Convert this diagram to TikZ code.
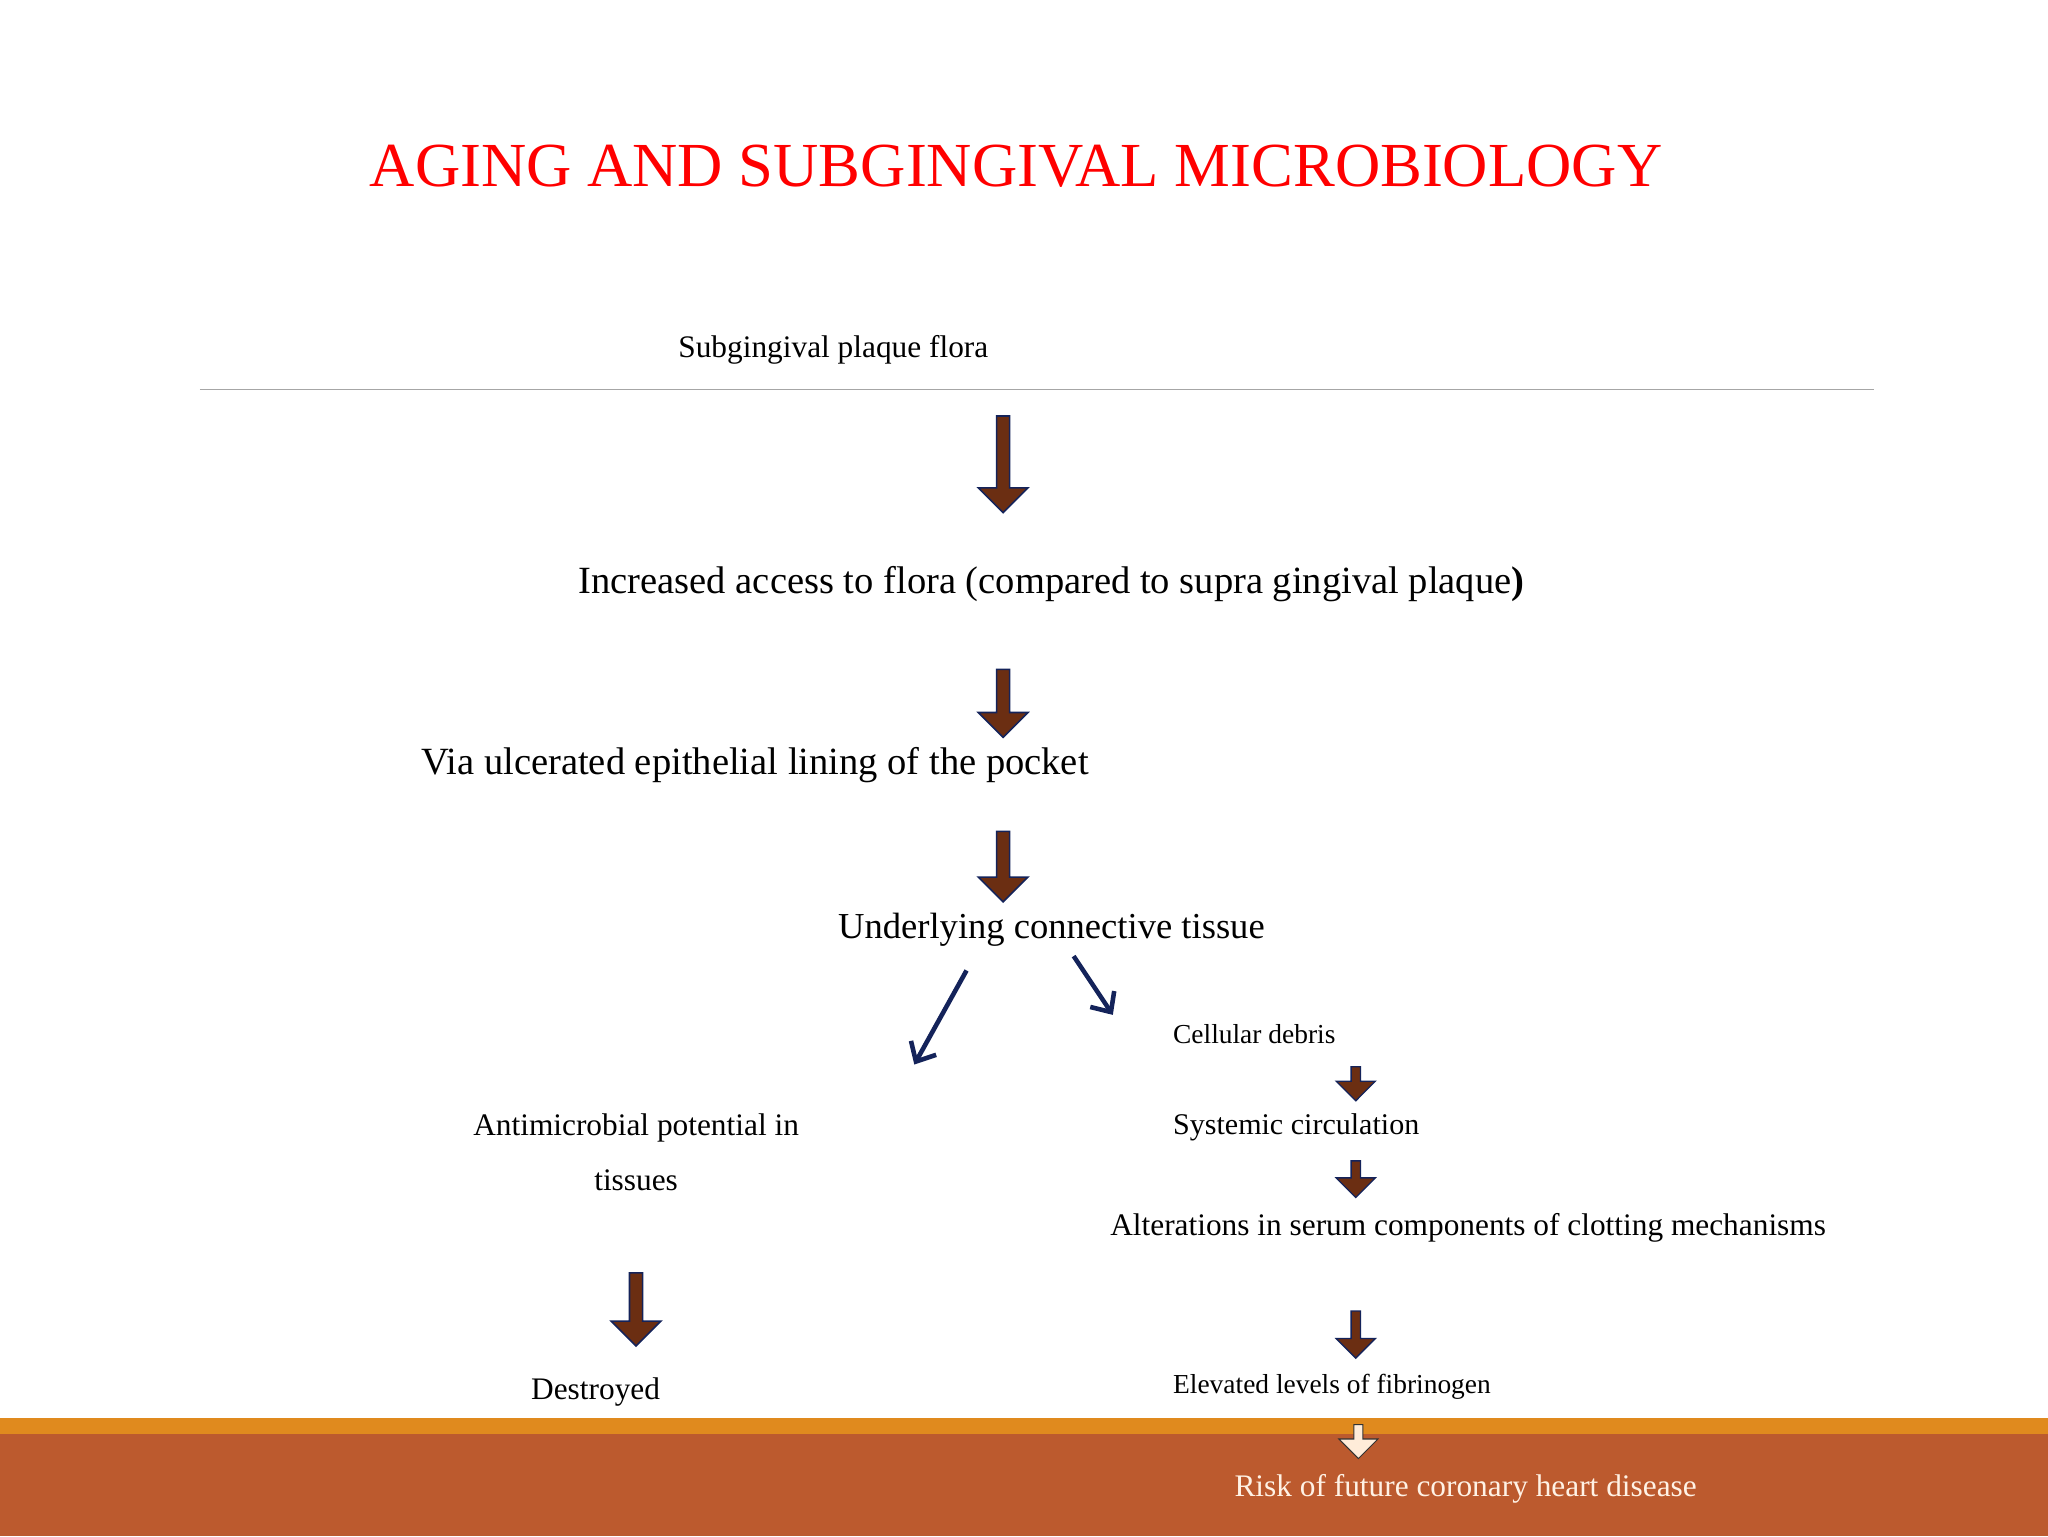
\documentclass[tikz,border=0pt]{standalone}
\usepackage{fontspec}
\setmainfont{Liberation Serif}
\usetikzlibrary{shapes.arrows,arrows.meta}
\definecolor{brn}{HTML}{6B2E12}
\definecolor{navy}{HTML}{14235A}
\definecolor{rust}{HTML}{BC5A2E}
\definecolor{orng}{HTML}{E08A1E}
\begin{document}
\begin{tikzpicture}[x=1pt,y=-1pt,
  blk/.style={single arrow,draw=navy,fill=brn,line width=1.2pt,rotate=-90,single arrow head extend=10pt,minimum height=#1,minimum width=38pt,inner sep=3pt},
  sblk/.style={single arrow,draw=navy,fill=brn,line width=1pt,rotate=-90,single arrow head extend=8pt,minimum height=#1,minimum width=30pt,inner sep=2pt},
  big/.style={font=\fontsize{29.5}{34}\selectfont,inner sep=0pt},
  mid/.style={font=\fontsize{24}{42}\selectfont,inner sep=0pt},
  sml/.style={font=\fontsize{21}{25}\selectfont,inner sep=0pt,anchor=west},
  thin/.style={navy,line width=3.5pt,-{Straight Barb[length=12pt,width=22pt,line width=3.5pt]}}]
\useasboundingbox (0,0) rectangle (1568,1176);
\fill[white] (0,0) rectangle (1568,1176);
\fill[orng] (0,1086) rectangle (1568,1098);
\fill[rust] (0,1098) rectangle (1568,1176);
\node[font=\fontsize{48}{54}\selectfont,text=red,inner sep=0pt] (title) at (778,127) {AGING AND SUBGINGIVAL MICROBIOLOGY};
\node[font=\fontsize{24}{28}\selectfont,inner sep=0pt] (t1) at (638,268) {Subgingival plaque flora};
\draw[gray!70,line width=0.8pt] (153,298) -- (1435,298);
\node[blk=74pt] (a1) at (768,353) {};
\node[big] (t2) at (805,447) {Increased access to flora (compared to supra gingival plaque\textbf{)}};
\node[blk=52pt] (a2) at (768,536) {};
\node[big] (t3) at (578,586) {Via ulcerated epithelial lining of the pocket};
\node[blk=54pt] (a3) at (768,661) {};
\node[big,font=\fontsize{28}{32}\selectfont] (t4) at (805,712) {Underlying connective tissue};
\coordinate (l0) at (740,743); \coordinate (l1) at (700,815);
\coordinate (r0) at (822,732); \coordinate (r1) at (852,777);
\draw[thin] (l0) -- (l1);
\draw[thin] (r0) -- (r1);
\node[sml] (t5) at (898,792) {Cellular debris};
\node[sblk=26pt] (a4) at (1038,828) {};
\node[sml,font=\fontsize{23}{27}\selectfont] (t6) at (898,863) {Systemic circulation};
\node[sblk=28pt] (a5) at (1038,901) {};
\node[mid] (t7) at (1124,940) {Alterations in serum components of clotting mechanisms};
\node[mid,align=center] (t8) at (487,882) {Antimicrobial potential in\\tissues};
\node[blk=56pt] (a6) at (487,1000) {};
\node[mid] (t9) at (456,1066) {Destroyed};
\node[sblk=36pt] (a7) at (1038,1020) {};
\node[sml] (t10) at (898,1062) {Elevated levels of fibrinogen};
\node[sblk=26pt,fill=white!85!orange,draw=black!80,line width=0.8pt] (a8) at (1040,1102) {};
\node[sml,text=white!90!orange,font=\fontsize{24}{28}\selectfont] (t11) at (945,1140) {Risk of future coronary heart disease};
\end{tikzpicture}
\end{document}
